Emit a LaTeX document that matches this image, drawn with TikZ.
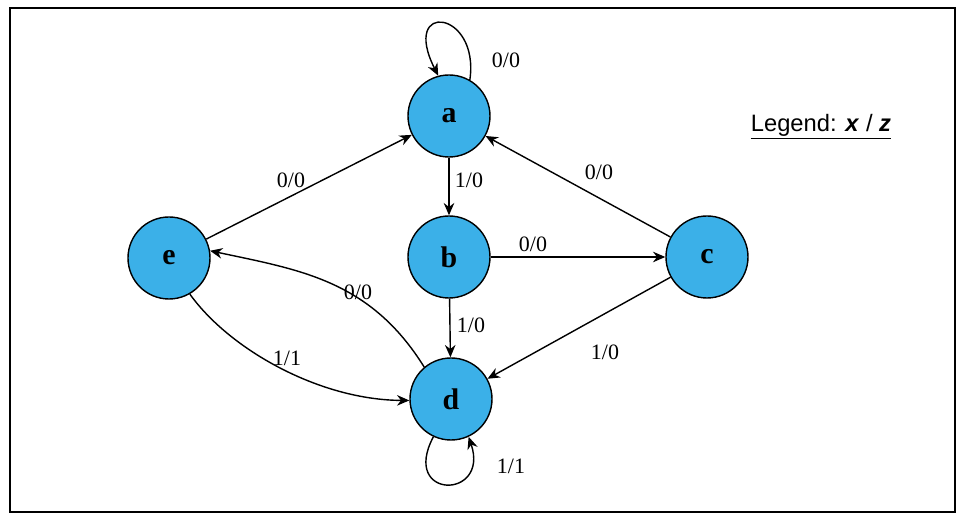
\documentclass[tikz,border=0pt]{standalone}
\usepackage{fontspec}
\setmainfont{Liberation Serif}
\newfontfamily\lsans{Liberation Sans}
\usetikzlibrary{arrows.meta}
\definecolor{nodeblue}{RGB}{59,176,232}
\begin{document}
\begin{tikzpicture}[x=0.02cm,y=-0.02cm,
  st/.style={circle,draw,thick,fill=nodeblue,minimum size=82*0.02cm,inner sep=0,font=\fontsize{17}{17}\selectfont\bfseries},
  ed/.style={draw,thick,-{Stealth[length=7pt,width=6pt]}},
  lb/.style={font=\fontsize{12.5}{13}\selectfont}]
\useasboundingbox (0,0) rectangle (965,519);
\draw[thick] (10,8) rectangle (955,512);
\node[st] (a) at (449,116) {a};
\node[st] (b) at (449,257) {b};
\node[st] (c) at (707,257) {c};
\node[st] (e) at (169,258) {e};
\node[st] (d) at (451,399) {d};
\node[font=\lsans\fontsize{13.5}{14}\selectfont] (leg) at (821,127) {\underline{Legend: \textbf{\textit{x}} / \textbf{\textit{z}}}};
\draw[ed] (a.60) .. controls (480,10) and (400,0) .. (a.105);
\node[lb] (l1) at (506,60) {0/0};
\draw[ed] (a) -- (b); \node[lb] (l2) at (469,180) {1/0};
\draw[ed] (b) -- (c); \node[lb] (l3) at (533,244) {0/0};
\draw[ed] (c) -- (a); \node[lb] (l4) at (599,172) {0/0};
\draw[ed] (e) -- (a); \node[lb] (l5) at (291,180) {0/0};
\draw[ed] (b) -- (d); \node[lb] (l6) at (471,325) {1/0};
\draw[ed] (c) -- (d); \node[lb] (l7) at (605,352) {1/0};
\draw[ed] (d.130) .. controls (370,280) and (300,270) .. (e.10);
\node[lb] (l8) at (358,292) {0/0};
\draw[ed] (e.300) .. controls (230,350) and (320,400) .. (d.182);
\node[lb] (l9) at (287,358) {1/1};
\draw[ed] (d.245) .. controls (400,500) and (490,500) .. (d.295);
\node[lb] (l10) at (511,466) {1/1};
\end{tikzpicture}
\end{document}
